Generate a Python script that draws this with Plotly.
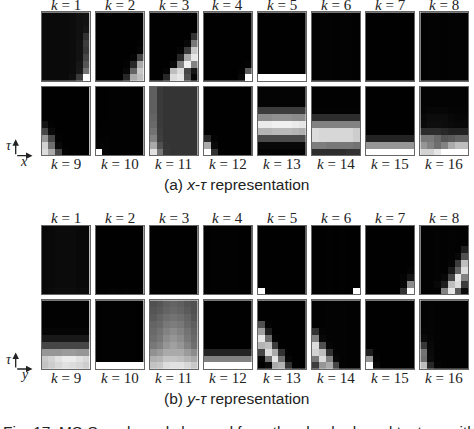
import plotly.graph_objects as go

W, H = 474, 429

# x-tau kernels, rows top to bottom, grey levels 0-255
xt_k1 = [[10,10,10,10,12,16,18],[10,10,10,10,12,16,18],[10,10,10,10,12,16,22],[10,10,10,10,12,16,50],[10,10,10,10,12,18,60],
         [10,10,10,10,12,18,55],[10,10,10,10,12,18,70],[10,10,10,10,12,22,85],[10,10,10,10,12,25,115],[10,10,10,10,16,60,255]]
xt_k2 = [[1,1,1,1,1,1,1],[1,1,1,1,1,1,1],[1,1,1,1,1,1,1],[1,1,1,1,1,1,1],[1,1,1,1,1,1,3],
         [1,1,1,1,1,1,6],[1,1,1,1,1,6,70],[1,1,1,1,3,40,170],[1,1,1,1,8,100,200],[1,1,1,1,40,170,190]]
xt_k3 = [[1,1,1,1,1,1,1],[1,1,1,1,1,1,1],[1,1,1,1,1,1,1],[1,1,1,1,1,1,50],[1,1,1,1,1,8,120],
         [1,1,1,1,5,60,200],[1,1,1,1,40,170,230],[1,1,1,10,130,240,130],[1,1,5,190,220,70,20],[1,1,40,220,230,80,5]]
xt_k4 = [[1,1,1,1,1,1,1],[1,1,1,1,1,1,1],[1,1,1,1,1,1,1],[1,1,1,1,1,1,1],[1,1,1,1,1,1,1],
         [1,1,1,1,1,1,1],[1,1,1,1,1,1,1],[1,1,1,1,1,1,3],[1,1,1,1,1,3,90],[1,1,1,1,1,8,255]]
xt_k5 = [[1,1,1,1,1,1,1],[1,1,1,1,1,1,1],[1,1,1,1,1,1,1],[1,1,1,1,1,1,1],[1,1,1,1,1,1,1],
         [1,1,1,1,1,1,1],[1,1,1,1,1,1,1],[1,1,1,1,1,1,1],[1,1,1,1,1,1,1],[255,255,255,255,255,255,255]]
xt_k6 = [[2,3,3,2,3,3,2],[2,3,3,2,3,3,2],[2,3,3,2,3,3,2],[2,3,3,2,3,3,2],[2,3,3,2,3,3,2],
         [2,3,3,2,3,3,2],[2,3,3,2,3,3,2],[2,3,3,2,3,3,2],[2,3,3,2,3,3,2],[2,3,3,2,3,3,2]]
xt_k7 = [[1,1,1,1,1,1,1],[1,1,1,1,1,1,1],[1,1,1,1,1,1,1],[1,1,1,1,1,1,1],[1,1,1,1,1,1,1],
         [1,1,1,1,1,1,1],[1,1,1,1,1,1,1],[1,1,1,1,1,1,1],[1,1,1,1,1,1,1],[1,1,1,1,1,1,1]]
xt_k8 = [[2,3,3,2,3,3,2],[2,3,3,2,3,3,2],[2,3,3,2,3,3,2],[2,3,3,2,3,3,2],[2,3,3,2,3,3,2],
         [2,3,3,2,3,3,2],[2,3,3,2,3,3,2],[2,3,3,2,3,3,2],[2,3,3,2,3,3,2],[2,3,3,2,3,3,2]]
xt_k9 = [[1,1,1,1,1,1,1],[1,1,1,1,1,1,1],[1,1,1,1,1,1,1],[1,1,1,1,1,1,1],[1,1,1,1,1,1,1],
         [20,3,1,1,1,1,1],[70,10,1,1,1,1,1],[150,70,3,1,1,1,1],[210,110,10,1,1,1,1],[220,170,70,3,1,1,1]]
xt_k10 = [[1,1,2,2,2,1,1],[1,1,2,2,2,1,1],[1,1,2,2,2,1,1],[1,1,2,2,2,1,1],[1,1,2,2,2,1,1],
          [1,2,2,2,2,1,1],[2,2,2,2,2,1,1],[3,3,2,2,2,1,1],[4,4,2,2,2,1,1],[255,6,2,2,2,1,1]]
xt_k11 = [[95,58,52,52,52,52,52],[95,58,52,52,52,52,52],[95,58,52,52,52,52,52],[95,58,52,52,52,52,52],[100,58,52,52,52,52,52],
          [105,58,52,52,52,52,52],[115,60,52,52,52,52,52],[130,62,52,52,52,52,52],[170,80,54,52,52,52,52],[225,120,56,52,52,52,52]]
xt_k12 = [[1,1,1,1,1,1,1],[1,1,1,1,1,1,1],[1,1,1,1,1,1,1],[1,1,1,1,1,1,1],[1,1,1,1,1,1,1],
          [1,1,1,1,1,1,1],[1,1,1,1,1,1,1],[40,4,1,1,1,1,1],[170,10,1,1,1,1,1],[255,50,3,1,1,1,1]]
xt_k13 = [[4,4,4,4,4,4,4],[4,4,4,4,4,4,4],[4,4,4,4,4,4,4],[60,60,60,60,60,60,60],[140,140,145,145,145,140,140],
          [235,235,240,240,240,235,230],[180,180,185,185,185,180,175],[75,75,75,75,75,75,75],[8,8,8,8,8,8,8],[3,3,3,3,3,3,3]]
xt_k14 = [[2,2,2,2,2,2,2],[2,2,2,2,2,2,2],[2,2,2,2,2,2,2],[3,3,3,3,3,3,3],[45,45,45,45,45,45,45],
          [130,130,130,130,130,130,130],[220,215,215,215,215,215,205],[220,215,215,215,215,215,205],[125,125,120,120,120,120,115],[45,45,45,45,45,50,50]]
xt_k15 = [[1,1,1,1,1,1,1],[1,1,1,1,1,1,1],[1,1,1,1,1,1,1],[1,1,1,1,1,1,1],[1,1,1,1,1,1,1],
          [1,1,1,1,1,1,1],[1,1,1,1,1,1,1],[35,35,35,35,35,35,35],[150,150,150,150,150,150,150],[255,255,255,255,255,255,255]]
xt_k16 = [[3,3,3,3,3,3,3],[3,3,3,3,3,3,3],[3,3,3,3,3,3,3],[4,6,6,6,4,4,4],[8,12,12,12,8,6,6],
          [10,14,14,12,10,8,8],[45,45,45,40,35,35,35],[120,120,105,85,90,100,100],[150,130,110,130,170,190,190],[210,210,230,255,255,255,255]]

# y-tau kernels
yt_k1 = [[8,9,11,11,11,9,9],[8,9,11,11,11,9,9],[8,9,11,11,11,9,9],[8,9,11,11,11,9,9],[8,9,11,11,11,9,9],
         [8,9,11,11,11,9,9],[8,9,11,11,11,9,9],[8,9,11,11,11,9,9],[8,9,11,11,11,9,9],[9,11,13,13,13,11,11]]
yt_k2 = [[1,1,1,1,1,1,1],[1,1,1,1,1,1,1],[1,1,1,1,1,1,1],[1,1,1,1,1,1,1],[1,1,1,1,1,1,1],
         [1,1,1,1,1,1,1],[1,1,1,1,1,1,1],[1,1,1,1,1,1,1],[1,1,1,1,1,1,1],[2,2,3,2,3,2,2]]
yt_k3 = [[1,1,1,1,1,1,1],[1,1,1,1,1,1,1],[1,1,1,1,1,1,1],[1,1,1,1,1,1,1],[1,1,1,1,1,1,1],
         [1,1,1,1,1,1,1],[1,1,1,1,1,1,1],[1,1,1,1,1,1,1],[1,1,1,1,1,1,1],[1,1,1,1,1,1,1]]
yt_k4 = [[1,2,2,2,2,1,1],[1,2,2,2,2,1,1],[1,2,2,2,2,1,1],[1,2,2,2,2,1,1],[1,2,2,2,2,1,1],
         [1,2,2,2,2,1,1],[1,2,2,2,2,1,1],[1,2,2,2,2,1,1],[1,2,2,2,2,1,1],[1,2,2,2,2,1,1]]
yt_k5 = [[1,1,1,1,1,1,1],[1,1,1,1,1,1,1],[1,1,1,1,1,1,1],[1,1,1,1,1,1,1],[1,1,1,1,1,1,1],
         [1,1,1,1,1,1,1],[1,1,1,1,1,1,1],[1,1,1,1,1,1,1],[1,1,1,1,1,1,1],[255,2,1,1,1,1,1]]
yt_k6 = [[1,1,2,1,2,1,1],[1,1,2,1,2,1,1],[1,1,2,1,2,1,1],[1,1,2,1,2,1,1],[1,1,2,1,2,1,1],
         [1,1,2,1,2,1,1],[1,1,2,1,2,1,1],[1,1,2,1,2,1,1],[1,1,2,1,2,1,1],[1,1,2,1,2,1,255]]
yt_k7 = [[1,1,1,1,1,1,1],[1,1,1,1,1,1,1],[1,1,1,1,1,1,1],[1,1,1,1,1,1,1],[1,1,1,1,1,1,1],
         [1,1,1,1,1,1,1],[1,1,1,1,1,1,4],[1,1,1,1,1,4,20],[1,1,1,1,1,8,140],[1,1,1,1,1,50,255]]
yt_k8 = [[2,2,3,2,3,2,2],[2,2,3,2,3,2,2],[2,2,3,2,3,2,2],[2,2,3,2,3,2,30],[2,2,3,2,3,8,80],
         [2,2,3,2,6,60,190],[2,2,3,2,25,100,220],[2,2,3,8,70,230,130],[2,2,8,30,190,220,60],[2,2,3,130,230,90,10]]
yt_k9 = [[2,2,2,2,2,2,2],[2,2,2,2,2,2,2],[2,2,2,2,2,2,2],[2,2,2,2,2,2,2],[5,5,5,5,5,5,5],
         [25,25,25,25,25,25,25],[70,70,70,70,70,70,70],[150,150,150,155,155,150,150],[200,210,225,235,235,225,215],[195,205,215,225,220,215,205]]
yt_k10 = [[1,2,2,2,2,2,1],[1,2,2,2,2,2,1],[1,2,2,2,2,2,1],[1,2,2,2,2,2,1],[1,2,2,2,2,2,1],
          [1,2,2,2,2,2,1],[1,2,2,2,2,2,1],[1,2,2,2,2,2,1],[1,2,2,2,2,2,1],[255,255,255,255,255,255,255]]
yt_k11 = [[80,85,95,100,95,85,80],[85,90,100,105,100,90,80],[90,100,110,115,110,100,85],[100,105,120,125,120,105,95],[105,115,130,140,130,115,100],
          [110,120,140,150,140,120,105],[120,130,150,160,150,130,110],[145,155,170,170,170,155,140],[175,180,195,195,190,180,170],[195,200,220,225,225,215,200]]
yt_k12 = [[1,1,1,1,1,1,1],[1,1,1,1,1,1,1],[1,1,1,1,1,1,1],[1,1,1,1,1,1,1],[1,1,1,1,1,1,1],
          [1,1,1,1,1,1,1],[1,1,1,1,1,1,1],[35,35,35,35,35,35,35],[130,130,130,130,130,130,130],[255,255,255,255,255,255,255]]
yt_k13 = [[1,1,1,1,1,1,1],[1,1,1,1,1,1,1],[1,1,1,1,1,1,1],[80,3,1,1,1,1,1],[160,30,1,1,1,1,1],
          [230,110,4,1,1,1,1],[180,190,60,2,1,1,1],[70,220,170,50,2,1,1],[5,110,230,110,6,1,1],[1,10,170,180,50,2,1]]
yt_k14 = [[2,2,3,3,3,2,2],[2,2,3,3,3,2,2],[2,2,3,3,3,2,2],[2,2,3,3,3,2,2],[50,4,3,3,3,2,2],
          [130,8,3,3,3,2,2],[220,80,6,3,3,2,2],[210,190,50,4,3,2,2],[120,220,130,8,3,2,2],[60,150,170,70,3,2,2]]
yt_k15 = [[1,1,1,1,1,1,1],[1,1,1,1,1,1,1],[1,1,1,1,1,1,1],[1,1,1,1,1,1,1],[1,1,1,1,1,1,1],
          [1,1,1,1,1,1,1],[1,1,1,1,1,1,1],[30,2,1,1,1,1,1],[150,4,1,1,1,1,1],[255,10,1,1,1,1,1]]
yt_k16 = [[3,4,3,2,2,2,2],[3,4,3,2,2,2,2],[3,4,3,2,2,2,2],[3,4,3,2,2,2,2],[5,4,3,2,2,2,2],
          [10,5,3,2,2,2,2],[55,8,3,2,2,2,2],[115,10,3,2,2,2,2],[110,12,3,2,2,2,2],[190,40,5,2,2,2,2]]

x_tau = [xt_k1, xt_k2, xt_k3, xt_k4, xt_k5, xt_k6, xt_k7, xt_k8,
         xt_k9, xt_k10, xt_k11, xt_k12, xt_k13, xt_k14, xt_k15, xt_k16]
y_tau = [yt_k1, yt_k2, yt_k3, yt_k4, yt_k5, yt_k6, yt_k7, yt_k8,
         yt_k9, yt_k10, yt_k11, yt_k12, yt_k13, yt_k14, yt_k15, yt_k16]

# pixel layout of the panels
col_left = [41.5, 95.6, 149.7, 203.8, 257.8, 312.0, 366.0, 420.3]
panel_w = 48
row_top = [12.3, 86.7, 225.7, 300.3]
panel_h = 68.5
label_y = [5.5, 164, 218, 378]

SERIF = "Liberation Serif"
SANS = "Liberation Sans"


def px(x):
    return x / W


def py(y):
    return 1 - y / H


fig = go.Figure()
annotations = []


def text(x, y, s, size, family=SERIF, color="#222222", yanchor="middle", xanchor="center"):
    annotations.append(dict(x=px(x), y=py(y), xref="paper", yref="paper", text=s, showarrow=False,
                            font=dict(family=family, size=size, color=color),
                            xanchor=xanchor, yanchor=yanchor))


def arrow(x0, y0, x1, y1):
    annotations.append(dict(x=px(x1), y=py(y1), ax=x0 - x1, ay=y0 - y1, xref="paper", yref="paper",
                            axref="pixel", ayref="pixel", text="", showarrow=True, arrowhead=2,
                            arrowsize=1, arrowwidth=1.3, arrowcolor="#222222"))


n = 0
for group, kernels in enumerate([x_tau, y_tau]):
    for i, z in enumerate(kernels):
        n += 1
        r = group * 2 + i // 8
        c = i % 8
        fig.add_trace(go.Heatmap(z=z, zmin=0, zmax=255, zsmooth=False, showscale=False, hoverinfo="skip",
                                 colorscale=[[0, "#000000"], [1, "#ffffff"]], xaxis=f"x{n}", yaxis=f"y{n}"))
        axis = dict(showticklabels=False, ticks="", showgrid=False, zeroline=False, showline=True,
                    mirror=True, linecolor="#666666", linewidth=1)
        fig.update_layout({
            f"xaxis{n}": dict(axis, domain=[px(col_left[c]), px(col_left[c] + panel_w)], anchor=f"y{n}"),
            f"yaxis{n}": dict(axis, domain=[py(row_top[r] + panel_h), py(row_top[r])], anchor=f"x{n}",
                              autorange="reversed"),
        })
        text(col_left[c] + panel_w / 2, label_y[r], f"<i>k</i> = {i + 1}", 15)

# tau / x and tau / y axes markers
for oy, name in [(155.7, "x"), (369, "y")]:
    arrow(15.7, oy, 15.7, oy - 16.5)
    arrow(15.7, oy, 32.5, oy)
    text(9, oy - 10, "<i>τ</i>", 14)
    text(24, oy + 5.5, f"<i>{name}</i>", 14)

text(236.5, 184, "(a) <i>x</i>-<i>τ</i> representation", 15.5, SANS)
text(236.5, 398, "(b) <i>y</i>-<i>τ</i> representation", 15.5, SANS)
text(1, 420.5, "Fig. 17: MS-Sony kernels learned from the checkerboard texture with", 15.5, SANS, yanchor="top", xanchor="left")

fig.update_layout(width=W, height=H, margin=dict(l=0, r=0, t=0, b=0), paper_bgcolor="white",
                  plot_bgcolor="white", showlegend=False, annotations=annotations)

# page default body margin would push the figure 8px in
fig.write_html("out.html", config={"displayModeBar": False},
               post_script="document.body.style.margin='0';document.body.style.overflow='hidden';")
